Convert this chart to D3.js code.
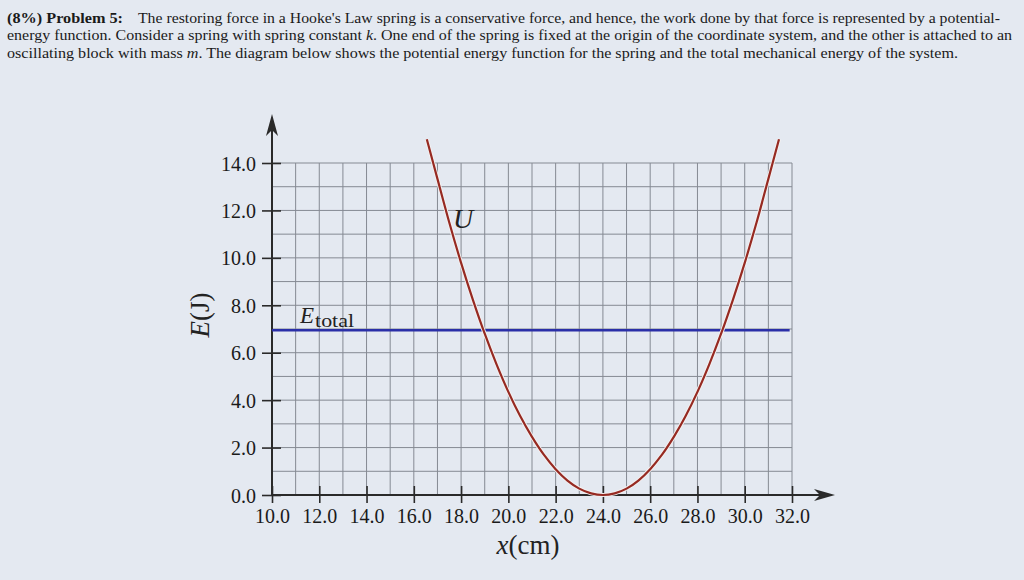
<!DOCTYPE html>
<html>
<head>
<meta charset="utf-8">
<script src="https://cdn.jsdelivr.net/npm/d3@7"></script>
<style>
  html, body { margin: 0; padding: 0; background: #e4e9f1; }
  svg { display: block; }
</style>
</head>
<body>
<svg id="chart" width="1024" height="580"></svg>
<script>
// ---- data ----
const xTicks = [10, 12, 14, 16, 18, 20, 22, 24, 26, 28, 30, 32];
const yTicks = [0, 2, 4, 6, 8, 10, 12, 14];
const uX = [16.55, 17, 17.5, 18, 18.5, 19, 19.5, 20, 20.5, 21, 21.5, 22, 22.5, 23, 23.5, 24,
            24.5, 25, 25.5, 26, 26.5, 27, 27.5, 28, 28.5, 29, 29.5, 30, 30.5, 31, 31.45];
const uY = [15.0, 13.33, 11.49, 9.79, 8.23, 6.80, 5.51, 4.35, 3.33, 2.45, 1.70, 1.09, 0.61, 0.27, 0.07, 0.0,
            0.07, 0.27, 0.61, 1.09, 1.70, 2.45, 3.33, 4.35, 5.51, 6.80, 8.23, 9.79, 11.49, 13.33, 15.0];
const eTotalX = [10, 31.9];
const eTotalY = [6.95, 6.95];

const svg = d3.select("#chart");
const x = d3.scaleLinear().domain([10, 32]).range([272, 792]);
const y = d3.scaleLinear().domain([0, 14]).range([495, 163]);

// header text
const header = svg.append("g").attr("font-family", "'Liberation Serif', 'Times New Roman', serif")
  .attr("font-size", 15.5).attr("fill", "#1a1a1a");
header.append("text").attr("x", 7).attr("y", 22.5).attr("font-weight", "bold")
  .attr("textLength", 116).attr("lengthAdjust", "spacingAndGlyphs").text("(8%) Problem 5:");
header.append("text").attr("x", 138).attr("y", 22.5).attr("textLength", 862).attr("lengthAdjust", "spacingAndGlyphs")
  .text("The restoring force in a Hooke's Law spring is a conservative force, and hence, the work done by that force is represented by a potential-");
const l2 = header.append("text").attr("x", 7).attr("y", 40).attr("textLength", 1005).attr("lengthAdjust", "spacingAndGlyphs");
l2.append("tspan").text("energy function. Consider a spring with spring constant ");
l2.append("tspan").attr("font-style", "italic").text("k");
l2.append("tspan").text(". One end of the spring is fixed at the origin of the coordinate system, and the other is attached to an");
const l3 = header.append("text").attr("x", 7).attr("y", 57.5).attr("textLength", 951).attr("lengthAdjust", "spacingAndGlyphs");
l3.append("tspan").text("oscillating block with mass ");
l3.append("tspan").attr("font-style", "italic").text("m");
l3.append("tspan").text(". The diagram below shows the potential energy function for the spring and the total mechanical energy of the system.");

// grid
const grid = svg.append("g").attr("stroke", "#858a93").attr("stroke-width", 1);
grid.selectAll("line.v").data(d3.range(10, 33, 1)).join("line")
  .attr("x1", d => x(d)).attr("x2", d => x(d)).attr("y1", y(0)).attr("y2", y(14));
grid.selectAll("line.h").data(d3.range(1, 15, 1)).join("line")
  .attr("x1", x(10)).attr("x2", x(32)).attr("y1", d => y(d)).attr("y2", d => y(d));

// axes
const axisColor = "#2a2a2a";
const xAxis = d3.axisBottom(x).tickValues(xTicks).tickSize(0).tickFormat(d3.format(".1f"));
const gx = svg.append("g").attr("transform", `translate(0,${y(0)})`).call(xAxis);
gx.select(".domain").remove();
gx.selectAll("text").attr("dy", null).attr("y", 28)
  .attr("font-family", "'Liberation Serif', 'Times New Roman', serif").attr("font-size", 20).attr("fill", "#1a1a1a");
gx.selectAll(".tick").append("line").attr("y1", -9).attr("y2", 8).attr("stroke", axisColor).attr("stroke-width", 1.6);

const yAxis = d3.axisLeft(y).tickValues(yTicks).tickSize(0).tickFormat(d3.format(".1f"));
const gy = svg.append("g").attr("transform", `translate(${x(10)},0)`).call(yAxis);
gy.select(".domain").remove();
gy.selectAll("text").attr("x", -16).attr("dy", "0.35em")
  .attr("font-family", "'Liberation Serif', 'Times New Roman', serif").attr("font-size", 20).attr("fill", "#1a1a1a");
gy.selectAll(".tick").append("line").attr("x1", -10).attr("x2", 9).attr("stroke", axisColor).attr("stroke-width", 1.6);

// axis lines with arrows
svg.append("line").attr("x1", x(10)).attr("x2", 828).attr("y1", y(0)).attr("y2", y(0))
  .attr("stroke", axisColor).attr("stroke-width", 2);
svg.append("line").attr("x1", x(10)).attr("x2", x(10)).attr("y1", y(0)).attr("y2", 122)
  .attr("stroke", axisColor).attr("stroke-width", 2);
svg.append("path").attr("d", `M835,${y(0)} L814,${y(0) - 6} L820,${y(0)} L814,${y(0) + 6} Z`).attr("fill", axisColor);
svg.append("path").attr("d", `M${x(10)},114 L${x(10) - 6},136 L${x(10)},130 L${x(10) + 6},136 Z`).attr("fill", axisColor);

// E total
const line = d3.line().x(d => x(d[0])).y(d => y(d[1]));
svg.append("path").datum(d3.zip(eTotalX, eTotalY)).attr("d", line)
  .attr("fill", "none").attr("stroke", "#2a2fa8").attr("stroke-width", 2.4);

// U curve
const curve = d3.line().x(d => x(d[0])).y(d => y(d[1])).curve(d3.curveCatmullRom);
const uPts = d3.zip(uX, uY);
svg.append("path").datum(uPts).attr("d", curve).attr("fill", "none").attr("stroke", "#f4f1f1").attr("stroke-width", 4);
svg.append("path").datum(uPts).attr("d", curve).attr("fill", "none").attr("stroke", "#962a22").attr("stroke-width", 2.2);

// labels
const serif = "'Liberation Serif', 'Times New Roman', serif";
svg.append("text").attr("x", 453).attr("y", 228).attr("font-family", serif).attr("font-style", "italic")
  .attr("font-size", 28).attr("fill", "#222").text("U");
const et = svg.append("text").attr("x", 300).attr("y", 323).attr("font-family", serif).attr("fill", "#222");
et.append("tspan").attr("font-style", "italic").attr("font-size", 23).text("E");
et.append("tspan").attr("font-size", 19).attr("dy", 4).attr("dx", 1).attr("textLength", 39).attr("lengthAdjust", "spacingAndGlyphs").text("total");

const xl = svg.append("text").attr("x", 528).attr("y", 554).attr("text-anchor", "middle")
  .attr("font-family", serif).attr("font-size", 27).attr("fill", "#222");
xl.append("tspan").attr("font-style", "italic").text("x");
xl.append("tspan").text("(cm)");

const yl = svg.append("text").attr("transform", "translate(209,315) rotate(-90)").attr("text-anchor", "middle")
  .attr("font-family", serif).attr("font-size", 27).attr("fill", "#222");
yl.append("tspan").attr("font-style", "italic").text("E");
yl.append("tspan").text("(J)");
</script>
</body>
</html>
